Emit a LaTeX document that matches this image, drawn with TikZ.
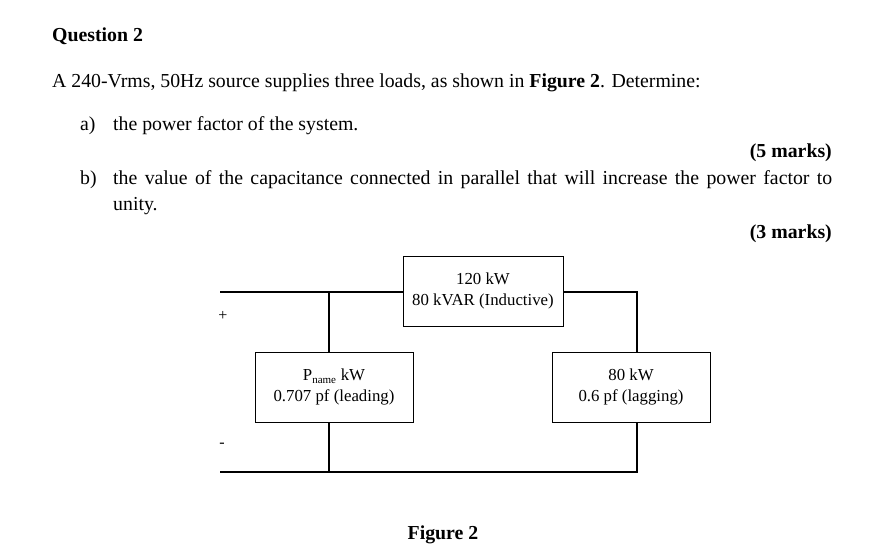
\documentclass[tikz,border=0pt]{standalone}
\usepackage{fontspec}
\setmainfont{Liberation Serif}
\begin{document}
\begin{tikzpicture}[x=1pt,y=-1pt,
  txt/.style={font=\fontsize{19.8}{26}\selectfont,inner sep=0pt,anchor=base west},
  load/.style={draw,line width=1pt,font=\fontsize{16.8}{21}\selectfont,align=center,inner sep=0pt},
  wire/.style={line width=1.1pt}]
\useasboundingbox (0,0) rectangle (877,548);
\node[txt] (q) at (52,42) {\textbf{Question 2}};
\node[txt] (l1) at (52,88) {A 240-Vrms, 50Hz source supplies three loads, as shown in \textbf{Figure 2}. Determine:};
\node[txt] (a) at (80,131) {a)};
\node[txt] (at) at (113,131) {the power factor of the system.};
\node[txt,anchor=base east] (m5) at (832,158) {\textbf{(5 marks)}};
\node[txt] (b) at (80,184) {b)};
\node[txt] (bt) at (113,184) {\makebox[719pt][s]{the value of the capacitance connected in parallel that will increase the power factor to}};
\node[txt] (bt2) at (113,210) {unity.};
\node[txt,anchor=base east] (m3) at (832,238) {\textbf{(3 marks)}};
\node[txt,anchor=base] (fig) at (443,539) {\textbf{Figure 2}};
% circuit
\node[load,minimum width=160pt,minimum height=70pt] (top) at (483,291) {120 kW\\80 kVAR (Inductive)};
\node[load,minimum width=158pt,minimum height=70pt] (lft) at (334,387) {P\textsubscript{\fontsize{11}{11}\selectfont name} kW\\0.707 pf (leading)};
\node[load,minimum width=158pt,minimum height=70pt] (rgt) at (631,387) {80 kW\\0.6 pf (lagging)};
\coordinate (s1) at (220,292);
\coordinate (j1) at (329,292);
\coordinate (j2) at (637,292);
\coordinate (s2) at (220,472);
\coordinate (b1) at (329,472);
\coordinate (b2) at (637,472);
\draw[wire] (s1) -- (j1) -- (top.west |- j1);
\draw[wire] (top.east |- j2) -- (j2) -- (j2 |- rgt.north);
\draw[wire] (j1) -- (j1 |- lft.north);
\draw[wire] (s2) -- (b2) -- (b2 |- rgt.south);
\draw[wire] (b1) -- (b1 |- lft.south);
\node[font=\fontsize{16}{18}\selectfont] (plus) at (223,316) {+};
\node[font=\fontsize{16}{18}\selectfont] (minus) at (222,445) {-};
\end{tikzpicture}
\end{document}
